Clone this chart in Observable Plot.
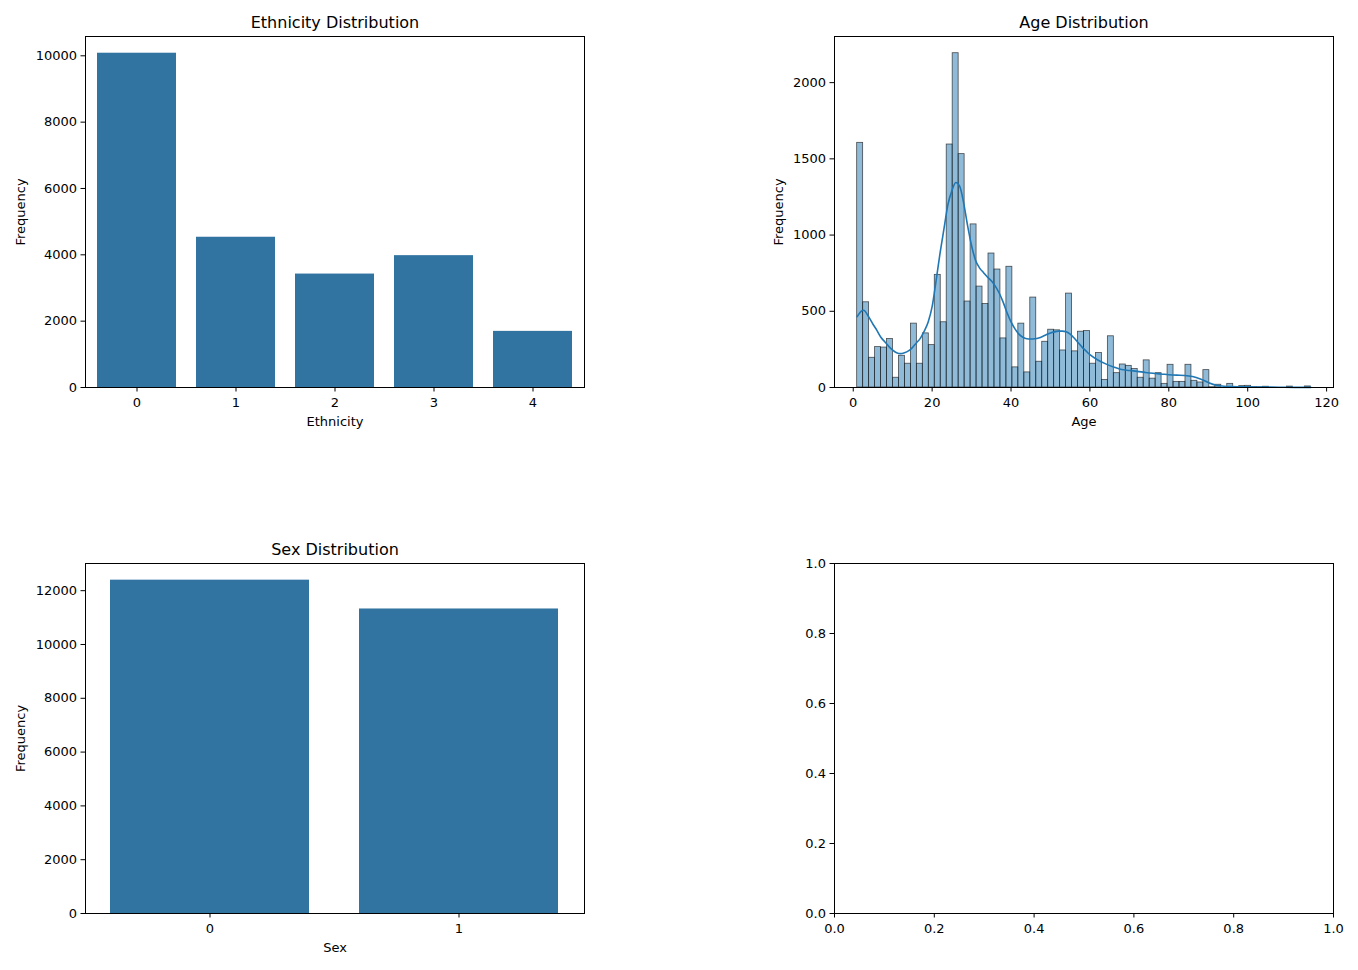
<!DOCTYPE html>
<html><head><meta charset="utf-8">
<script src="https://cdn.jsdelivr.net/npm/d3@7"></script>
<script src="https://cdn.jsdelivr.net/npm/@observablehq/plot@0.6"></script>
<style>
body{margin:0;background:#fff;}
#fig{position:relative;width:1358px;height:970px;background:#fff;}
#fig svg{position:absolute;overflow:visible;}
</style></head><body><div id="fig"></div>
<script>
// ---- data ----
const ethnicityCategories = ["0", "1", "2", "3", "4"];
const ethnicityCounts = [10078, 4530, 3420, 3975, 1692];
const ethnicityYTicks = [0, 2000, 4000, 6000, 8000, 10000];

const sexCategories = ["0", "1"];
const sexCounts = [12391, 11320];
const sexYTicks = [0, 2000, 4000, 6000, 8000, 10000, 12000];

const ageMin = 1;
const ageMax = 116;
const ageBinCounts = [
  1605, 559, 195, 265, 262, 318, 64, 208, 156, 419,
  156, 355, 278, 739, 428, 1594, 2193, 1531, 564, 1070,
  662, 548, 879, 774, 322, 792, 132, 419, 99, 590,
  169, 300, 379, 375, 243, 616, 237, 366, 370, 156,
  226, 50, 336, 94, 151, 142, 121, 64, 178, 58,
  94, 24, 149, 37, 37, 149, 44, 33, 114, 2,
  18, 0, 24, 0, 9, 11, 2, 1, 5, 0,
  0, 0, 6, 0, 0, 7
];
const ageKdeAges = [1, 2, 2.6, 4, 5, 6, 7, 8, 9, 10, 11, 12, 13, 14, 15, 16, 17, 18, 19, 20,
  21, 22, 23, 24, 25, 26, 27, 28, 29, 30, 31, 32, 33, 34, 35, 36, 37, 38, 39, 40,
  41, 42, 43, 44, 45, 46, 47, 48, 49, 50, 51, 52, 53, 54, 55, 56, 57, 58, 59, 60,
  62, 64, 66, 68, 70, 72, 74, 76, 78, 80, 82, 84, 86, 88, 90, 92, 94, 96, 98, 100,
  104, 108, 112, 116];
const ageKdeValues = [465, 500, 507, 460, 415, 375, 330, 300, 270, 245, 228, 222, 228, 240, 262, 292, 322, 370, 430, 530,
  700, 880, 1040, 1200, 1290, 1345, 1320, 1210, 1060, 930, 835, 785, 755, 725, 700, 665, 620, 560, 490, 430,
  385, 350, 330, 320, 318, 320, 325, 335, 348, 358, 365, 370, 370, 365, 350, 325, 295, 265, 240, 215,
  180, 155, 135, 118, 112, 106, 99, 93, 89, 84, 81, 79, 72, 56, 33, 15, 8, 6, 5, 4,
  3, 2, 1, 1];
const ageXTicks = [0, 20, 40, 60, 80, 100, 120];
const ageYTicks = [0, 500, 1000, 1500, 2000];

const emptyTicks = [0, 0.2, 0.4, 0.6, 0.8, 1.0];

// ---- styles ----
const barColor = "#3274a1";
const histFill = "#1f77b4";
const kdeColor = "#1f77b4";
const font = "DejaVu Sans";
const W = 679, H = 485;

const fig = document.getElementById("fig");

function place(svg, left, top) {
  svg.style.left = left + "px";
  svg.style.top = top + "px";
  fig.appendChild(svg);
}

const baseStyle = {fontFamily: font, fontSize: "13px", color: "black", background: "transparent", overflow: "visible"};

function labels(title, xLabel, yLabel, yDx) {
  const m = [];
  if (title) m.push(Plot.text([title], {frameAnchor: "top", dy: -14, fontSize: 16, lineAnchor: "middle", textAnchor: "middle", fill: "black"}));
  if (xLabel) m.push(Plot.text([xLabel], {frameAnchor: "bottom", dy: 34, fontSize: 13, lineAnchor: "middle", textAnchor: "middle", fill: "black"}));
  if (yLabel) m.push(Plot.text([yLabel], {frameAnchor: "left", dx: yDx, rotate: -90, fontSize: 13, lineAnchor: "middle", textAnchor: "middle", fill: "black"}));
  return m;
}

const xAxisOpts = {tickSize: 4.5, tickPadding: 5.5, label: null};
const yAxisOpts = {tickSize: 4.5, tickPadding: 4, label: null};

// ---- Panel 1: Ethnicity ----
const ethData = ethnicityCategories.map((c, i) => ({cat: c, count: ethnicityCounts[i]}));
place(Plot.plot({
  width: W, height: H,
  marginLeft: 85, marginRight: 95, marginTop: 36, marginBottom: 98,
  style: baseStyle,
  x: {type: "band", domain: ethnicityCategories, paddingInner: 0.2, paddingOuter: 0.1},
  y: {domain: [0, d3.max(ethnicityCounts) * 1.05]},
  marks: [
    Plot.barY(ethData, {x: "cat", y: "count", fill: barColor}),
    Plot.frame({stroke: "black", strokeWidth: 1}),
    Plot.axisX(xAxisOpts),
    Plot.axisY({...yAxisOpts, ticks: ethnicityYTicks, tickFormat: d3.format("d")}),
    ...labels("Ethnicity Distribution", "Ethnicity", "Frequency", -65)
  ]
}), 0, 0);

// ---- Panel 2: Age ----
const binW = (ageMax - ageMin) / ageBinCounts.length;
const ageBins = ageBinCounts.map((c, i) => ({x1: ageMin + i * binW, x2: ageMin + (i + 1) * binW, count: c}));
const ageKde = ageKdeAges.map((a, i) => ({age: a, v: ageKdeValues[i]}));
const pad = (ageMax - ageMin) * 0.05;
place(Plot.plot({
  width: W, height: H,
  marginLeft: 155, marginRight: 25, marginTop: 36, marginBottom: 98,
  style: baseStyle,
  x: {domain: [ageMin - pad, ageMax + pad]},
  y: {domain: [0, d3.max(ageBinCounts) * 1.05]},
  marks: [
    Plot.rect(ageBins, {x1: "x1", x2: "x2", y1: 0, y2: "count", fill: histFill, fillOpacity: 0.5, stroke: "#1a1a1a", strokeOpacity: 0.75, strokeWidth: 0.8}),
    Plot.line(ageKde, {x: "age", y: "v", stroke: kdeColor, strokeWidth: 1.6, curve: "monotone-x"}),
    Plot.frame({stroke: "black", strokeWidth: 1}),
    Plot.axisX({...xAxisOpts, ticks: ageXTicks, tickFormat: d3.format("d")}),
    Plot.axisY({...yAxisOpts, ticks: ageYTicks, tickFormat: d3.format("d")}),
    ...labels("Age Distribution", "Age", "Frequency", -56)
  ]
}), W, 0);

// ---- Panel 3: Sex ----
const sexData = sexCategories.map((c, i) => ({cat: c, count: sexCounts[i]}));
place(Plot.plot({
  width: W, height: H,
  marginLeft: 85, marginRight: 95, marginTop: 78, marginBottom: 57,
  style: baseStyle,
  x: {type: "band", domain: sexCategories, paddingInner: 0.2, paddingOuter: 0.1},
  y: {domain: [0, d3.max(sexCounts) * 1.05]},
  marks: [
    Plot.barY(sexData, {x: "cat", y: "count", fill: barColor}),
    Plot.frame({stroke: "black", strokeWidth: 1}),
    Plot.axisX(xAxisOpts),
    Plot.axisY({...yAxisOpts, ticks: sexYTicks, tickFormat: d3.format("d")}),
    ...labels("Sex Distribution", "Sex", "Frequency", -65)
  ]
}), 0, H);

// ---- Panel 4: empty axes ----
place(Plot.plot({
  width: W, height: H,
  marginLeft: 155, marginRight: 25, marginTop: 78, marginBottom: 57,
  style: baseStyle,
  x: {domain: [0, 1]},
  y: {domain: [0, 1]},
  marks: [
    Plot.frame({stroke: "black", strokeWidth: 1}),
    Plot.axisX({...xAxisOpts, ticks: emptyTicks, tickFormat: d3.format(".1f")}),
    Plot.axisY({...yAxisOpts, ticks: emptyTicks, tickFormat: d3.format(".1f")})
  ]
}), W, H);
</script>
</body></html>
